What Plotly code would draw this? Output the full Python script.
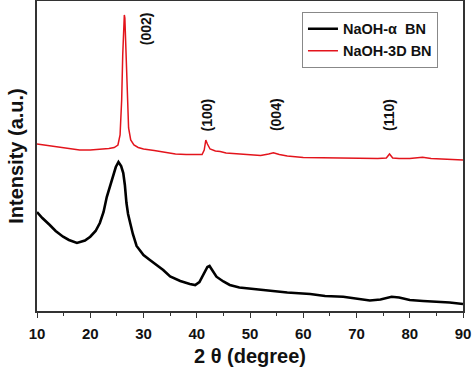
import plotly.graph_objects as go

# (2θ in degrees, intensity in arbitrary units)
theta_3d = [10, 12, 14, 16, 18, 20, 22, 23.5, 24.5, 25.2, 25.6, 25.9, 26.1, 26.3, 26.4, 26.5,
            26.7, 26.9, 27.2, 27.6, 28.2, 29, 30, 32, 34, 36, 38, 40, 41, 41.4, 41.7, 42.0,
            42.5, 43.5, 44.4, 45.5, 47.5, 50, 52, 53.5, 54.4, 55.5, 57, 60, 65, 70, 74,
            75.6, 76.2, 76.8, 78, 80, 82.4, 84, 87, 90]
int_3d = [167, 165.5, 164, 162.5, 161, 161, 161.5, 162.5, 163.5, 166, 176, 211, 256, 291, 296, 293,
          261, 216, 183, 171, 166, 163.5, 162, 160.5, 158.5, 157, 156.5, 156, 156.5, 161, 171, 167,
          162, 160, 159.5, 158, 157, 156, 155.5, 157, 158.3, 156.5, 155, 153.5, 153, 152.5, 152.5,
          153, 157, 153, 152.5, 152.5, 153.7, 152.5, 151.5, 151]

theta_a = [10, 11, 12.4, 13.5, 14.9, 16, 17.5, 19, 20, 21, 21.8, 22.5, 23.1, 23.7, 24.3, 24.8,
           25.3, 25.8, 26.2, 26.5, 26.8, 27.1, 27.5, 28.0, 28.7, 29.5, 30, 31.2, 32.5, 33.7, 35,
           36.9, 38.7, 39.7, 40.5, 40.9, 41.5, 42.0, 42.4, 42.9, 43.7, 45, 46.2, 48, 51.3, 53.8,
           57, 61.3, 64.1, 67.5, 70, 72.5, 74.5, 76.6, 78, 80, 82.5, 85, 87.5, 90]
int_a = [99, 93, 86, 80, 74.3, 71, 68, 70.5, 74.3, 80, 88, 99, 114, 125, 134, 144,
         149, 145, 138, 126, 108, 97, 88, 77, 65, 59, 56, 51, 46, 41, 34.5,
         30, 27, 26, 29, 33, 40, 44, 45, 41, 34.3, 29.5, 26, 23.5, 21.7, 20.3,
         18.5, 17, 15, 14.3, 12.5, 10.5, 11.5, 14.3, 13.5, 11, 10, 9.3, 8.5, 7]

peak_labels = ["(002)", "(100)", "(004)", "(110)"]
peak_theta = [30.5, 42.0, 54.9, 76.1]
peak_int = [282, 196, 196, 196]

x_ticks = [10, 20, 30, 40, 50, 60, 70, 80, 90]

FONT = "Liberation Sans, Arial, sans-serif"

fig = go.Figure()
fig.add_trace(go.Scatter(x=theta_a, y=int_a, mode="lines", name="<b>NaOH-α  BN</b>",
                         line=dict(color="#000000", width=2.6)))
fig.add_trace(go.Scatter(x=theta_3d, y=int_3d, mode="lines", name="<b>NaOH-3D BN</b>",
                         line=dict(color="#e3141c", width=1.5)))

for lab, tx, ty in zip(peak_labels, peak_theta, peak_int):
    fig.add_annotation(x=tx, y=ty, text="<b>%s</b>" % lab, showarrow=False, textangle=-90,
                       font=dict(family=FONT, size=14, color="#111"))

fig.update_layout(
    width=474, height=368,
    margin=dict(l=37, r=11, t=1, b=57),
    paper_bgcolor="white", plot_bgcolor="white",
    font=dict(family=FONT, color="#111"),
    showlegend=True,
    legend=dict(x=0.622, y=0.965, xanchor="left", yanchor="top",
                bordercolor="#888", borderwidth=1, bgcolor="white",
                font=dict(family=FONT, size=14.5, color="#111"),
                tracegroupgap=0, itemwidth=30),
)
fig.update_xaxes(range=[10, 90], tickvals=x_ticks, ticktext=["<b>%d</b>" % v for v in x_ticks],
                 automargin=False, ticklabelstandoff=3,
                 ticks="outside", ticklen=5, tickwidth=1.2, tickcolor="#333",
                 minor=dict(dtick=5, ticks="outside", ticklen=3, tickcolor="#333", tickwidth=1.2),
                 showline=True, linecolor="#333", linewidth=1.5, mirror=True,
                 showgrid=False, zeroline=False,
                 tickfont=dict(family=FONT, size=15, color="#111"),
                 title=dict(text="<b>2 θ (degree)</b>", font=dict(family=FONT, size=20, color="#111"),
                            standoff=8))
fig.update_yaxes(range=[0, 310], showticklabels=False, ticks="", automargin=False,
                 showline=True, linecolor="#333", linewidth=1.5, mirror=True,
                 showgrid=False, zeroline=False,
                 title=dict(text="<b>Intensity (a.u.)</b>", font=dict(family=FONT, size=20, color="#111"),
                            standoff=6))

fig.write_html("out.html", config={"displayModeBar": False},
               post_script="document.body.style.margin='0';document.body.style.overflow='hidden';")
